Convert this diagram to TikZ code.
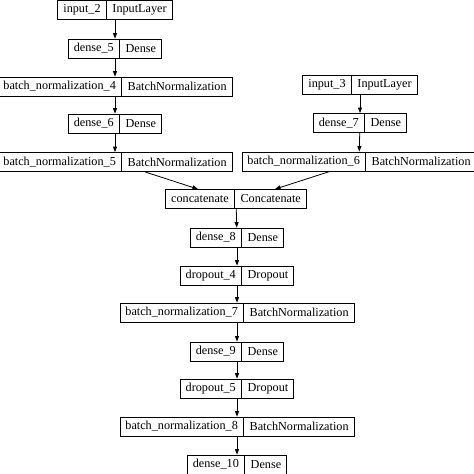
\documentclass[tikz,border=0pt]{standalone}
\usepackage{fontspec}
\setmainfont{Liberation Serif}
\usetikzlibrary{shapes.multipart, arrows.meta, calc}

\tikzset{
  layer/.style={draw, rectangle split, rectangle split horizontal,
    rectangle split parts=2, inner xsep=5.5pt, inner ysep=0pt,
    minimum height=19pt, line width=0.8pt,
    font=\fontsize{12.2}{14}\selectfont},
  flow/.style={-{Triangle[length=5.5pt,width=4pt]}, line width=0.8pt}
}

\begin{document}
\begin{tikzpicture}[x=1pt, y=1pt]

    % 0. Frame of the picture
    \useasboundingbox (0,0) rectangle (474,-474);

    % 1. Column centres
    \def\lx{115}
    \def\rx{359}
    \def\mx{237}

    % 2. Left input branch
    \node[layer] (in2) at (\lx,-9.5) {input\_2 \nodepart{two} InputLayer};
    \node[layer] (d5) at (\lx,-48.5) {dense\_5 \nodepart{two} Dense};
    \node[layer] (bn4) at (\lx,-86.5) {batch\_normalization\_4 \nodepart{two} BatchNormalization};
    \node[layer] (d6) at (\lx,-123.5) {dense\_6 \nodepart{two} Dense};
    \node[layer] (bn5) at (\lx,-162) {batch\_normalization\_5 \nodepart{two} BatchNormalization};

    % 3. Right input branch
    \node[layer] (in3) at (\rx+1,-84.5) {input\_3 \nodepart{two} InputLayer};
    \node[layer] (d7) at (\rx+1,-123) {dense\_7 \nodepart{two} Dense};
    \node[layer] (bn6) at (\rx,-161.5) {batch\_normalization\_6 \nodepart{two} BatchNormalization};

    % 4. Merged trunk
    \node[layer] (cc) at (\mx-1,-199) {concatenate \nodepart{two} Concatenate};
    \node[layer] (d8) at (\mx,-237.5) {dense\_8 \nodepart{two} Dense};
    \node[layer] (dr4) at (\mx,-275.5) {dropout\_4 \nodepart{two} Dropout};
    \node[layer] (bn7) at (\mx,-312.5) {batch\_normalization\_7 \nodepart{two} BatchNormalization};
    \node[layer] (d9) at (\mx,-351.5) {dense\_9 \nodepart{two} Dense};
    \node[layer] (dr5) at (\mx,-388.5) {dropout\_5 \nodepart{two} Dropout};
    \node[layer] (bn8) at (\mx,-426.5) {batch\_normalization\_8 \nodepart{two} BatchNormalization};
    \node[layer] (d10) at (\mx,-464.5) {dense\_10 \nodepart{two} Dense};

    % 5. Edges
    \draw[flow] (in2) -- (d5);
    \draw[flow] (d5) -- (bn4);
    \draw[flow] (bn4) -- (d6);
    \draw[flow] (d6) -- (bn5);
    \draw[flow] (in3) -- (d7);
    \draw[flow] (d7) -- (bn6);
    % the two branches join
    \draw[flow] ($(bn5.south)+(30,0)$) -- ($(cc.north)+(-38,0)$);
    \draw[flow] ($(bn6.south)+(-29,0)$) -- ($(cc.north)+(39,0)$);
    \draw[flow] (cc) -- (d8);
    \draw[flow] (d8) -- (dr4);
    \draw[flow] (dr4) -- (bn7);
    \draw[flow] (bn7) -- (d9);
    \draw[flow] (d9) -- (dr5);
    \draw[flow] (dr5) -- (bn8);
    \draw[flow] (bn8) -- (d10);

\end{tikzpicture}
\end{document}
